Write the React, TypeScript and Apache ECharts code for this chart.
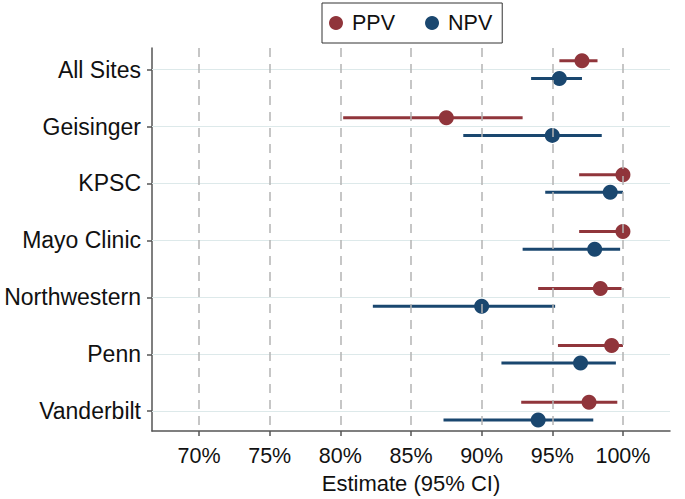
import { useEffect, useRef } from 'react';
import * as echarts from 'echarts';

const SITES = ['All Sites', 'Geisinger', 'KPSC', 'Mayo Clinic', 'Northwestern', 'Penn', 'Vanderbilt'];

const PPV_EST = [97.1, 87.5, 100, 100, 98.4, 99.2, 97.6];
const PPV_LO = [95.5, 80.2, 96.9, 96.9, 94.0, 95.4, 92.8];
const PPV_HI = [98.2, 92.9, 100, 100, 99.9, 100, 99.6];

const NPV_EST = [95.5, 95.0, 99.1, 98.0, 90.0, 97.0, 94.0];
const NPV_LO = [93.5, 88.7, 94.5, 92.9, 82.3, 91.4, 87.3];
const NPV_HI = [97.1, 98.5, 100, 99.8, 95.2, 99.5, 97.9];

const X_TICKS = [70, 75, 80, 85, 90, 95, 100];

const RED = '#90353b';
const BLUE = '#1a476f';
const FONT = '"Liberation Sans", Arial, sans-serif';
const OFFSET = 0.155;

const rows = SITES.map((_, i) => i + 1);

function ciSeries(name: string, lo: number[], hi: number[], shift: number, color: string) {
  return {
    name: name + ' CI',
    type: 'custom',
    z: 2,
    encode: { x: [1, 2], y: 0 },
    data: rows.map((r, i) => [r + shift, lo[i], hi[i]]),
    renderItem: (_: any, api: any) => {
      const a = api.coord([api.value(1), api.value(0)]);
      const b = api.coord([api.value(2), api.value(0)]);
      return {
        type: 'line',
        shape: { x1: a[0], y1: a[1], x2: b[0], y2: b[1] },
        style: { stroke: color, lineWidth: 3 },
      };
    },
  };
}

export default function App() {
  const ref = useRef<HTMLDivElement>(null);

  useEffect(() => {
    document.body.style.margin = '0';
    if (!ref.current) return;
    const chart = echarts.init(ref.current, null, { renderer: 'svg' });
    chart.setOption({
      animation: false,
      textStyle: { fontFamily: FONT },
      legend: {
        data: ['PPV', 'NPV'],
        left: 322,
        top: 3,
        icon: 'circle',
        itemWidth: 14,
        itemHeight: 14,
        itemGap: 30,
        padding: [9, 10, 9, 7],
        borderColor: '#333',
        borderWidth: 1,
        textStyle: { fontSize: 21.5, color: '#111', fontFamily: FONT, padding: [0, 0, 0, 4] },
      },
      grid: { left: 152, right: 15, top: 48, bottom: 60 },
      xAxis: {
        type: 'value',
        min: 66.67,
        max: 103.33,
        name: 'Estimate (95% CI)',
        nameLocation: 'middle',
        nameGap: 37,
        nameTextStyle: { fontSize: 22, color: '#111', fontFamily: FONT },
        axisLine: { show: true, lineStyle: { color: '#555', width: 1.5 } },
        axisTick: { show: true, customValues: X_TICKS, length: 5, lineStyle: { color: '#555', width: 1.5 } },
        axisLabel: {
          customValues: X_TICKS,
          formatter: (v: number) => v + '%',
          fontSize: 21.5,
          color: '#111',
          margin: 14,
          fontFamily: FONT,
        },
        splitLine: { show: false },
      },
      yAxis: {
        type: 'value',
        inverse: true,
        min: 0.62,
        max: 7.35,
        axisLine: { show: true, lineStyle: { color: '#555', width: 1.5 } },
        axisTick: { show: true, customValues: rows, length: 5, lineStyle: { color: '#555', width: 1.5 } },
        axisLabel: {
          customValues: rows,
          formatter: (v: number) => SITES[Math.round(v) - 1],
          fontSize: 23,
          color: '#111',
          margin: 11,
          fontFamily: FONT,
        },
        splitLine: { show: false },
      },
      series: [
        {
          name: 'grid',
          type: 'scatter',
          z: 1,
          data: [],
          silent: true,
          markLine: {
            silent: true,
            symbol: 'none',
            label: { show: false },
            data: [
              ...rows.map((r) => ({ yAxis: r, lineStyle: { color: '#dde9ea', width: 1, type: 'solid' } })),
              ...X_TICKS.map((t) => ({ xAxis: t, lineStyle: { color: '#b4b4b4', width: 1.5, type: [9, 7] } })),
            ],
          },
        },
        ciSeries('PPV', PPV_LO, PPV_HI, -OFFSET, RED),
        ciSeries('NPV', NPV_LO, NPV_HI, OFFSET, BLUE),
        {
          name: 'PPV',
          type: 'scatter',
          z: 3,
          symbolSize: 15,
          itemStyle: { color: RED, opacity: 1 },
          data: PPV_EST.map((v, i) => [v, rows[i] - OFFSET]),
        },
        {
          name: 'NPV',
          type: 'scatter',
          z: 3,
          symbolSize: 15,
          itemStyle: { color: BLUE, opacity: 1 },
          data: NPV_EST.map((v, i) => [v, rows[i] + OFFSET]),
        },
      ],
    });
    return () => chart.dispose();
  }, []);

  return <div ref={ref} style={{ width: 685, height: 499 }} />;
}
